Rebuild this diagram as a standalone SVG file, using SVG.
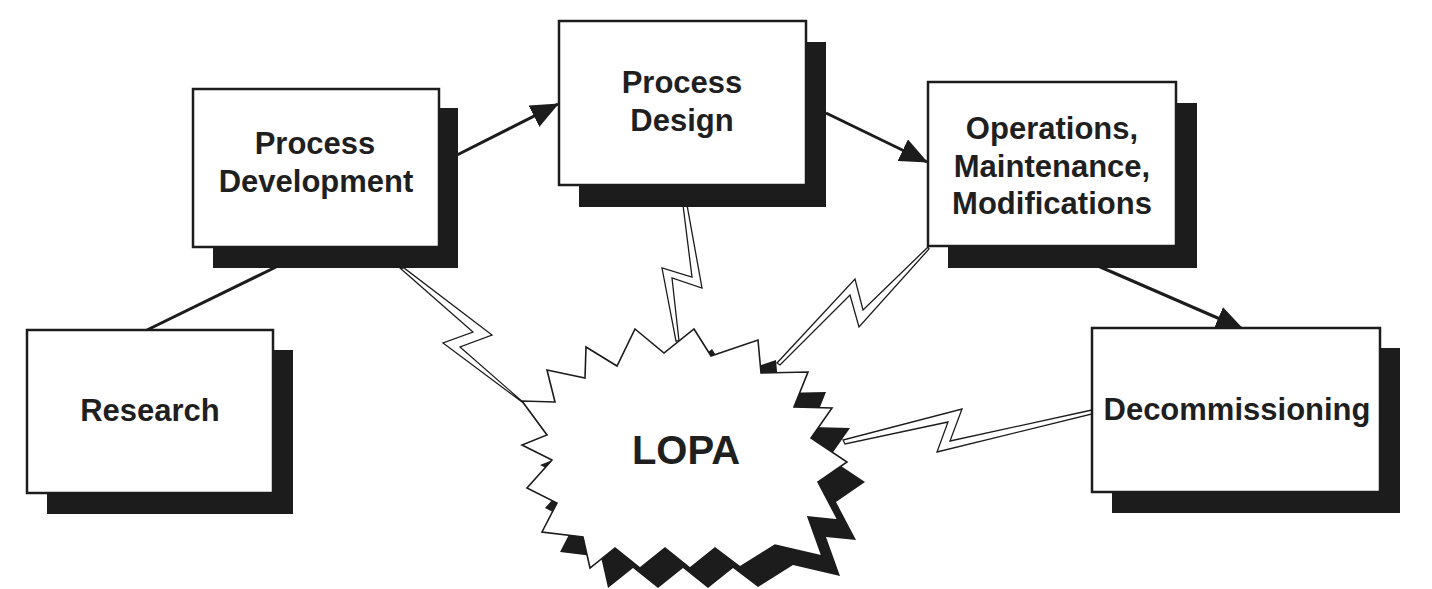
<svg xmlns="http://www.w3.org/2000/svg" xmlns:xlink="http://www.w3.org/1999/xlink" width="1432" height="589" viewBox="0 0 1432 589">
<style>
.shadow{fill:#1c1c1c;stroke:none}
.box{fill:#fff;stroke:#1c1c1c;stroke-width:2.5}
.lbl{font-family:"Liberation Sans",Arial,sans-serif;font-weight:bold;font-size:31px;fill:#1f1f1f;text-anchor:middle}
.arrow{stroke:#1c1c1c;stroke-width:3;fill:none}
.bolt{fill:#fff;stroke:#1c1c1c;stroke-width:1.3;stroke-linejoin:miter}
</style>
<defs>
<marker id="ah" markerUnits="userSpaceOnUse" markerWidth="28" markerHeight="24" viewBox="0 0 28 24" refX="27" refY="12" orient="auto">
<path d="M0,0 L28,12 L0,24 z" fill="#1c1c1c"/>
</marker>
<polygon id="star" points="635,329 664,353 694,329 711,356 758,340 761,373 808,372 794,407 832,408 811,438 847,462 818,482 838,520 808,517 822,556 775,545 740,567 715,548 690,568 665,548 640,568 615,548 590,568 583,537 542,532 557,503 527,488 552,460 522,445 547,435 522,401 555,402 547,370 585,378 586,347 617,366"/>
</defs>
<rect width="1432" height="589" fill="#fff"/>
<g id="connectors">
<line class="arrow" x1="147" y1="330" x2="276" y2="267"/>
<line class="arrow" x1="457" y1="155" x2="558" y2="104" marker-end="url(#ah)"/>
<line class="arrow" x1="826" y1="113" x2="927" y2="162" marker-end="url(#ah)"/>
<line class="arrow" x1="1098" y1="266" x2="1243" y2="329" marker-end="url(#ah)"/>
<polygon class="bolt" points="400,268 473,332 443,343 522,402 524,403 460,347 492,335 404,268"/>
<polygon class="bolt" points="683,205 692,277 662,268 676,341 679,341 672,278 702,288 687,205"/>
<polygon class="bolt" points="928,247 863,310 855,279 777,363 780,365 850,295 859,327 929,249"/>
<polygon class="bolt" points="1092,410 950,441 962,409 843,440 845,444 948,422 937,452 1092,414"/>
</g>
<g id="research">
<rect class="shadow" x="47" y="350" width="246" height="164"/>
<rect class="box" x="27" y="330" width="246" height="163"/>
<text class="lbl" x="150" y="421">Research</text>
</g>
<g id="process-development">
<rect class="shadow" x="213" y="108" width="245" height="160"/>
<rect class="box" x="193" y="89" width="246" height="158"/>
<text class="lbl" x="315" y="154">Process</text>
<text class="lbl" x="316" y="192">Development</text>
</g>
<g id="process-design">
<rect class="shadow" x="579" y="42" width="247" height="165"/>
<rect class="box" x="559" y="21" width="247" height="164"/>
<text class="lbl" x="682" y="93">Process</text>
<text class="lbl" x="682" y="131">Design</text>
</g>
<g id="operations">
<rect class="shadow" x="948" y="103" width="249" height="165"/>
<rect class="box" x="928" y="82" width="248" height="164"/>
<text class="lbl" x="1052" y="139">Operations,</text>
<text class="lbl" x="1052" y="177">Maintenance,</text>
<text class="lbl" x="1052" y="214">Modifications</text>
</g>
<g id="decommissioning">
<rect class="shadow" x="1112" y="348" width="288" height="165"/>
<rect class="box" x="1092" y="328" width="288" height="164"/>
<text class="lbl" x="1237" y="420">Decommissioning</text>
</g>
<g id="lopa">
<use xlink:href="#star" transform="translate(18,20)" class="shadow"/>
<use xlink:href="#star" fill="#fff" stroke="#1c1c1c" stroke-width="1.6" stroke-linejoin="miter"/>
<text class="lbl" x="686" y="464" style="font-size:40px">LOPA</text>
</g>
</svg>
